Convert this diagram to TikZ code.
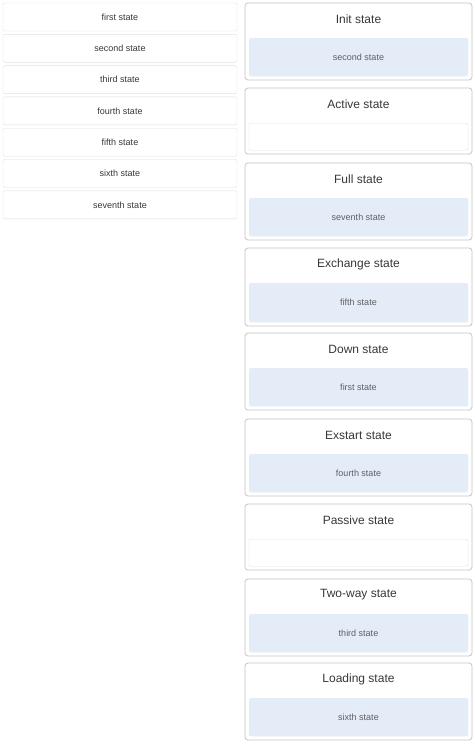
\documentclass[tikz,border=0pt]{standalone}
\usepackage{fontspec}
\setmainfont{Liberation Sans}
\definecolor{cardline}{RGB}{196,196,196}
\definecolor{itemline}{RGB}{222,222,222}
\definecolor{slotfill}{RGB}{228,236,248}
\definecolor{titletext}{RGB}{55,55,55}
\definecolor{slottext}{RGB}{95,95,95}
\begin{document}
\begin{tikzpicture}[x=1pt, y=-1pt, line join=round,
		item/.style={draw=itemline, rounded corners=2pt, minimum width=234pt, minimum height=28pt, font=\fontsize{9}{11}\selectfont, text=titletext},
		card/.style={draw=cardline, line width=0.8pt, rounded corners=3pt, minimum width=227pt},
		cardtitle/.style={font=\fontsize{12}{14}\selectfont, text=titletext},
		slot/.style={rounded corners=2pt, minimum width=219pt, font=\fontsize{9}{11}\selectfont, text=slottext}]
			\useasboundingbox (0,0) rectangle (474,744);
			\def\xl{120} \def\xr{358.5}
			% answer items
			\foreach \s [count=\i] in {first,second,third,fourth,fifth,sixth,seventh}
				\node[item] (item\i) at (\xl,{17+31.3*(\i-1)}) {\s\ state};
			% target cards: top/bottom/title/answer/fill/border
			\foreach \top/\bot/\ttl/\ans/\fc/\dc [count=\i] in {
					3/80/Init state/second state/slotfill/slotfill,
					88/154/Active state/ /white/itemline,
					163/240/Full state/seventh state/slotfill/slotfill,
					248/326/Exchange state/fifth state/slotfill/slotfill,
					333/410/Down state/first state/slotfill/slotfill,
					419/496/Exstart state/fourth state/slotfill/slotfill,
					504/570/Passive state/ /white/itemline,
					579/656/Two-way state/third state/slotfill/slotfill,
					663/740/Loading state/sixth state/slotfill/slotfill}{
				\node[card, minimum height={\bot-\top}] (card\i) at (\xr,{(\top+\bot)/2}) {};
				\node[cardtitle] (title\i) at (\xr,{\top+16}) {\ttl};
				\node[slot, fill=\fc, draw=\dc, minimum height={\bot-\top-39}, anchor=north] (slot\i) at (\xr,{\top+35}) {\ans};
			}
		\end{tikzpicture}
\end{document}
